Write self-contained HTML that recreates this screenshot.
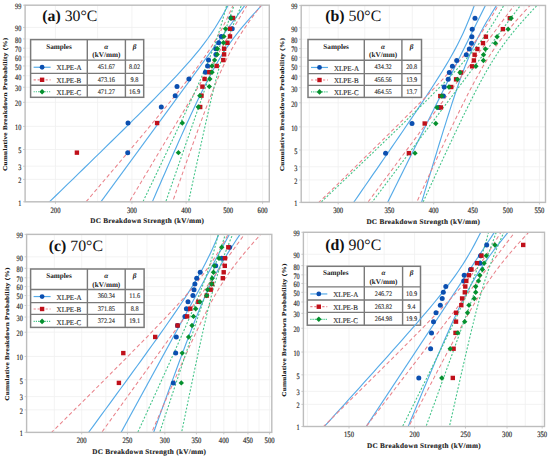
<!DOCTYPE html>
<html><head><meta charset="utf-8"><style>
html,body{margin:0;padding:0;background:#fff;}
svg{display:block;}
text{font-family:"Liberation Serif",serif;fill:#222;text-rendering:geometricPrecision;}
.tl{font-size:8.3px;fill:#1e1e1e;stroke:#1e1e1e;stroke-width:0.18px;}
.al{font-size:7.2px;font-weight:bold;letter-spacing:0.28px;fill:#1a1a1a;stroke:#1a1a1a;stroke-width:0.12px;}
.ti{font-size:15.8px;fill:#111;}
.lh{font-size:7.2px;font-weight:bold;}
.ln{font-size:7.4px;fill:#1e1e1e;stroke:#1e1e1e;stroke-width:0.12px;}
.lv{font-size:7px;fill:#1e1e1e;stroke:#1e1e1e;stroke-width:0.1px;}
</style></head><body>
<svg width="550" height="460" viewBox="0 0 550 460">
<rect width="550" height="460" fill="#fff"/>
<clipPath id="clipa"><rect x="25.1" y="5.2" width="244.20000000000002" height="196.60000000000002"/></clipPath>
<path d="M55.48 5.2V201.8 M97.54 5.2V201.8 M131.91 5.2V201.8 M160.97 5.2V201.8 M186.14 5.2V201.8 M208.34 5.2V201.8 M228.2 5.2V201.8 M246.17 5.2V201.8 M262.57 5.2V201.8 M25.1 201.8H269.3 M25.1 179.4H269.3 M25.1 166.22H269.3 M25.1 149.5H269.3 M25.1 126.41H269.3 M25.1 102.33H269.3 M25.1 87.28H269.3 M25.1 75.75H269.3 M25.1 65.96H269.3 M25.1 57.01H269.3 M25.1 48.24H269.3 M25.1 38.93H269.3 M25.1 27.44H269.3 M25.1 5.2H269.3" stroke="#f0f0f0" stroke-width="0.8" fill="none"/>
<rect x="30.6" y="39.6" width="113.1" height="57.7" fill="#fff" stroke="#7a7a7a" stroke-width="1.5"/>
<path d="M87.3 39.6V97.3M125.4 39.6V97.3M30.6 60.1H143.7M30.6 73.4H143.7M30.6 85.2H143.7" stroke="#7a7a7a" stroke-width="1.4"/>
<text x="58.95" y="48.6" class="lh" text-anchor="middle">Samples</text>
<text x="106.35" y="48.6" class="lh" text-anchor="middle" font-style="italic">α</text>
<text x="106.35" y="57.1" class="lh" text-anchor="middle">(kV/mm)</text>
<text x="134.55" y="48.6" class="lh" text-anchor="middle" font-style="italic">β</text>
<line x1="33.6" y1="67.25" x2="50.6" y2="67.25" stroke="#56abe8" stroke-width="1.2" />
<circle cx="42.1" cy="67.25" r="2.4" fill="#0b4fb0"/>
<text transform="translate(56.6 70.45) scale(0.95 1)" class="ln" text-anchor="start" >XLPE-A</text>
<text transform="translate(106.35 69.15) scale(0.9 1)" class="lv" text-anchor="middle" >451.67</text>
<text transform="translate(134.55 69.15) scale(0.9 1)" class="lv" text-anchor="middle" >8.02</text>
<line x1="33.6" y1="79.8" x2="50.6" y2="79.8" stroke="#e9838b" stroke-width="1.2" stroke-dasharray="2.2 1.8"/>
<rect x="39.9" y="77.6" width="4.4" height="4.4" fill="#c0101a"/>
<text transform="translate(56.6 83) scale(0.95 1)" class="ln" text-anchor="start" >XLPE-B</text>
<text transform="translate(106.35 81.7) scale(0.9 1)" class="lv" text-anchor="middle" >473.16</text>
<text transform="translate(134.55 81.7) scale(0.9 1)" class="lv" text-anchor="middle" >9.8</text>
<line x1="33.6" y1="91.75" x2="50.6" y2="91.75" stroke="#45c58a" stroke-width="1.2" stroke-dasharray="1.2 1"/>
<path d="M42.1 88.95L44.9 91.75L42.1 94.55L39.3 91.75Z" fill="#05902e"/>
<text transform="translate(56.6 94.95) scale(0.95 1)" class="ln" text-anchor="start" >XLPE-C</text>
<text transform="translate(106.35 93.65) scale(0.9 1)" class="lv" text-anchor="middle" >471.27</text>
<text transform="translate(134.55 93.65) scale(0.9 1)" class="lv" text-anchor="middle" >16.9</text>
<g clip-path="url(#clipa)">
<polyline points="93.87,211.43 251.98,-4.43" fill="none" stroke="#56abe8" stroke-width="1.15" />
<polyline points="39.53,211.43 45.11,206.03 50.68,200.63 56.25,195.24 61.81,189.84 67.37,184.44 72.92,179.05 78.47,173.65 84.02,168.26 89.56,162.86 95.09,157.46 100.61,152.07 106.12,146.67 111.63,141.27 117.12,135.88 122.6,130.48 128.06,125.09 133.5,119.69 138.92,114.29 144.32,108.9 149.69,103.5 155.02,98.1 160.3,92.71 165.54,87.31 170.71,81.91 175.8,76.52 180.8,71.12 185.69,65.73 190.44,60.33 195.03,54.93 199.43,49.54 203.63,44.14 207.62,38.74 211.39,33.35 214.95,27.95 218.31,22.56 221.52,17.16 224.57,11.76 227.51,6.37 230.35,0.97 233.11,-4.43" fill="none" stroke="#56abe8" stroke-width="1.15" />
<polyline points="148.2,211.43 150.53,206.03 152.87,200.63 155.2,195.24 157.55,189.84 159.89,184.44 162.24,179.05 164.6,173.65 166.96,168.26 169.33,162.86 171.7,157.46 174.09,152.07 176.48,146.67 178.88,141.27 181.29,135.88 183.72,130.48 186.17,125.09 188.63,119.69 191.11,114.29 193.62,108.9 196.16,103.5 198.74,98.1 201.36,92.71 204.03,87.31 206.76,81.91 209.58,76.52 212.48,71.12 215.5,65.73 218.66,60.33 221.98,54.93 225.48,49.54 229.18,44.14 233.1,38.74 237.24,33.35 241.59,27.95 246.12,22.56 250.83,17.16 255.67,11.76 260.64,6.37 265.71,0.97 270.86,-4.43" fill="none" stroke="#56abe8" stroke-width="1.15" />
<polyline points="123.55,211.43 252.94,-4.43" fill="none" stroke="#e9838b" stroke-width="1.05" stroke-dasharray="3.8 2.6"/>
<polyline points="77.84,211.43 82.43,206.03 87.03,200.63 91.62,195.24 96.21,189.84 100.8,184.44 105.38,179.05 109.96,173.65 114.54,168.26 119.11,162.86 123.67,157.46 128.22,152.07 132.77,146.67 137.31,141.27 141.84,135.88 146.36,130.48 150.86,125.09 155.35,119.69 159.82,114.29 164.27,108.9 168.7,103.5 173.09,98.1 177.45,92.71 181.76,87.31 186.02,81.91 190.21,76.52 194.33,71.12 198.35,65.73 202.25,60.33 206.02,54.93 209.64,49.54 213.08,44.14 216.34,38.74 219.42,33.35 222.33,27.95 225.07,22.56 227.68,17.16 230.16,11.76 232.54,6.37 234.84,0.97 237.06,-4.43" fill="none" stroke="#e9838b" stroke-width="1.05" stroke-dasharray="3.8 2.6"/>
<polyline points="169.26,211.43 171.13,206.03 173,200.63 174.88,195.24 176.76,189.84 178.64,184.44 180.53,179.05 182.42,173.65 184.32,168.26 186.22,162.86 188.12,157.46 190.04,152.07 191.96,146.67 193.89,141.27 195.83,135.88 197.78,130.48 199.75,125.09 201.73,119.69 203.73,114.29 205.75,108.9 207.8,103.5 209.87,98.1 211.99,92.71 214.14,87.31 216.35,81.91 218.63,76.52 220.98,71.12 223.43,65.73 226,60.33 228.7,54.93 231.55,49.54 234.58,44.14 237.79,38.74 241.18,33.35 244.74,27.95 248.47,22.56 252.33,17.16 256.32,11.76 260.41,6.37 264.58,0.97 268.83,-4.43" fill="none" stroke="#e9838b" stroke-width="1.05" stroke-dasharray="3.8 2.6"/>
<polyline points="162.39,211.43 237.43,-4.43" fill="none" stroke="#45c58a" stroke-width="1.1" stroke-dasharray="2 1.7"/>
<polyline points="138.29,211.43 140.89,206.03 143.48,200.63 146.07,195.24 148.66,189.84 151.25,184.44 153.84,179.05 156.42,173.65 159,168.26 161.58,162.86 164.16,157.46 166.73,152.07 169.3,146.67 171.86,141.27 174.42,135.88 176.97,130.48 179.52,125.09 182.06,119.69 184.58,114.29 187.1,108.9 189.6,103.5 192.09,98.1 194.56,92.71 197,87.31 199.42,81.91 201.8,76.52 204.14,71.12 206.43,65.73 208.66,60.33 210.81,54.93 212.89,49.54 214.88,44.14 216.77,38.74 218.56,33.35 220.26,27.95 221.88,22.56 223.42,17.16 224.9,11.76 226.33,6.37 227.71,0.97 229.05,-4.43" fill="none" stroke="#45c58a" stroke-width="1.1" stroke-dasharray="2 1.7"/>
<polyline points="186.49,211.43 187.64,206.03 188.8,200.63 189.96,195.24 191.12,189.84 192.29,184.44 193.45,179.05 194.62,173.65 195.79,168.26 196.96,162.86 198.14,157.46 199.32,152.07 200.5,146.67 201.69,141.27 202.88,135.88 204.08,130.48 205.29,125.09 206.5,119.69 207.73,114.29 208.96,108.9 210.21,103.5 211.48,98.1 212.76,92.71 214.07,87.31 215.41,81.91 216.78,76.52 218.19,71.12 219.65,65.73 221.17,60.33 222.77,54.93 224.44,49.54 226.21,44.14 228.07,38.74 230.03,33.35 232.08,27.95 234.21,22.56 236.42,17.16 238.69,11.76 241.02,6.37 243.39,0.97 245.8,-4.43" fill="none" stroke="#45c58a" stroke-width="1.1" stroke-dasharray="2 1.7"/>
</g>
<circle cx="127.7" cy="152.64" r="2.5" fill="#0b4fb0"/>
<circle cx="128" cy="123.05" r="2.5" fill="#0b4fb0"/>
<circle cx="161.3" cy="107.02" r="2.5" fill="#0b4fb0"/>
<circle cx="175.2" cy="95.65" r="2.5" fill="#0b4fb0"/>
<circle cx="177" cy="86.62" r="2.5" fill="#0b4fb0"/>
<circle cx="188.9" cy="78.96" r="2.5" fill="#0b4fb0"/>
<circle cx="205.4" cy="72.18" r="2.5" fill="#0b4fb0"/>
<circle cx="207.6" cy="65.96" r="2.5" fill="#0b4fb0"/>
<circle cx="208.5" cy="60.09" r="2.5" fill="#0b4fb0"/>
<circle cx="215.9" cy="54.4" r="2.5" fill="#0b4fb0"/>
<circle cx="215.9" cy="48.71" r="2.5" fill="#0b4fb0"/>
<circle cx="218.7" cy="42.81" r="2.5" fill="#0b4fb0"/>
<circle cx="221.3" cy="36.41" r="2.5" fill="#0b4fb0"/>
<circle cx="232.2" cy="28.85" r="2.5" fill="#0b4fb0"/>
<circle cx="231" cy="17.99" r="2.5" fill="#0b4fb0"/>
<rect x="74.7" y="150.44" width="4.4" height="4.4" fill="#c0101a"/>
<rect x="154.9" y="120.85" width="4.4" height="4.4" fill="#c0101a"/>
<rect x="198" y="104.82" width="4.4" height="4.4" fill="#c0101a"/>
<rect x="199.3" y="93.45" width="4.4" height="4.4" fill="#c0101a"/>
<rect x="200.2" y="84.42" width="4.4" height="4.4" fill="#c0101a"/>
<rect x="202.4" y="76.76" width="4.4" height="4.4" fill="#c0101a"/>
<rect x="207.1" y="69.98" width="4.4" height="4.4" fill="#c0101a"/>
<rect x="214.5" y="63.76" width="4.4" height="4.4" fill="#c0101a"/>
<rect x="221.1" y="57.89" width="4.4" height="4.4" fill="#c0101a"/>
<rect x="221.9" y="52.2" width="4.4" height="4.4" fill="#c0101a"/>
<rect x="221.9" y="46.51" width="4.4" height="4.4" fill="#c0101a"/>
<rect x="225.2" y="40.61" width="4.4" height="4.4" fill="#c0101a"/>
<rect x="227.8" y="34.21" width="4.4" height="4.4" fill="#c0101a"/>
<rect x="227.8" y="26.65" width="4.4" height="4.4" fill="#c0101a"/>
<rect x="230.8" y="15.79" width="4.4" height="4.4" fill="#c0101a"/>
<path d="M178.4 149.94L181.1 152.64L178.4 155.34L175.7 152.64Z" fill="#05902e"/>
<path d="M182.3 120.35L185 123.05L182.3 125.75L179.6 123.05Z" fill="#05902e"/>
<path d="M198.3 104.32L201 107.02L198.3 109.72L195.6 107.02Z" fill="#05902e"/>
<path d="M199.8 92.95L202.5 95.65L199.8 98.35L197.1 95.65Z" fill="#05902e"/>
<path d="M209.3 83.92L212 86.62L209.3 89.32L206.6 86.62Z" fill="#05902e"/>
<path d="M209.8 76.26L212.5 78.96L209.8 81.66L207.1 78.96Z" fill="#05902e"/>
<path d="M212 69.48L214.7 72.18L212 74.88L209.3 72.18Z" fill="#05902e"/>
<path d="M212 63.26L214.7 65.96L212 68.66L209.3 65.96Z" fill="#05902e"/>
<path d="M214.6 57.39L217.3 60.09L214.6 62.79L211.9 60.09Z" fill="#05902e"/>
<path d="M217.2 51.7L219.9 54.4L217.2 57.1L214.5 54.4Z" fill="#05902e"/>
<path d="M217.4 46.01L220.1 48.71L217.4 51.41L214.7 48.71Z" fill="#05902e"/>
<path d="M223.5 40.11L226.2 42.81L223.5 45.51L220.8 42.81Z" fill="#05902e"/>
<path d="M223.9 33.71L226.6 36.41L223.9 39.11L221.2 36.41Z" fill="#05902e"/>
<path d="M225.5 26.15L228.2 28.85L225.5 31.55L222.8 28.85Z" fill="#05902e"/>
<path d="M230.9 15.29L233.6 17.99L230.9 20.69L228.2 17.99Z" fill="#05902e"/>
<rect x="25.1" y="5.2" width="244.2" height="196.6" fill="none" stroke="#bdbdbd" stroke-width="1.4"/>
<path d="M55.48 201.8v2 M131.91 201.8v2 M186.14 201.8v2 M228.2 201.8v2 M262.57 201.8v2 M25.1 201.8h-2 M25.1 179.4h-2 M25.1 166.22h-2 M25.1 149.5h-2 M25.1 126.41h-2 M25.1 102.33h-2 M25.1 87.28h-2 M25.1 75.75h-2 M25.1 65.96h-2 M25.1 57.01h-2 M25.1 48.24h-2 M25.1 38.93h-2 M25.1 27.44h-2 M25.1 5.2h-2" stroke="#bdbdbd" stroke-width="0.8"/>
<text transform="translate(55.48 212.8) scale(0.8 1)" class="tl" text-anchor="middle" >200</text>
<text transform="translate(131.91 212.8) scale(0.8 1)" class="tl" text-anchor="middle" >300</text>
<text transform="translate(186.14 212.8) scale(0.8 1)" class="tl" text-anchor="middle" >400</text>
<text transform="translate(228.2 212.8) scale(0.8 1)" class="tl" text-anchor="middle" >500</text>
<text transform="translate(262.57 212.8) scale(0.8 1)" class="tl" text-anchor="middle" >600</text>
<text transform="translate(21.3 205.7) scale(0.75 1)" class="tl" text-anchor="end" >1</text>
<text transform="translate(21.3 183.3) scale(0.75 1)" class="tl" text-anchor="end" >2</text>
<text transform="translate(21.3 170.12) scale(0.75 1)" class="tl" text-anchor="end" >3</text>
<text transform="translate(21.3 153.4) scale(0.75 1)" class="tl" text-anchor="end" >5</text>
<text transform="translate(21.3 130.31) scale(0.75 1)" class="tl" text-anchor="end" >10</text>
<text transform="translate(21.3 106.23) scale(0.75 1)" class="tl" text-anchor="end" >20</text>
<text transform="translate(21.3 91.18) scale(0.75 1)" class="tl" text-anchor="end" >30</text>
<text transform="translate(21.3 79.65) scale(0.75 1)" class="tl" text-anchor="end" >40</text>
<text transform="translate(21.3 69.86) scale(0.75 1)" class="tl" text-anchor="end" >50</text>
<text transform="translate(21.3 60.91) scale(0.75 1)" class="tl" text-anchor="end" >60</text>
<text transform="translate(21.3 52.14) scale(0.75 1)" class="tl" text-anchor="end" >70</text>
<text transform="translate(21.3 42.83) scale(0.75 1)" class="tl" text-anchor="end" >80</text>
<text transform="translate(21.3 31.34) scale(0.75 1)" class="tl" text-anchor="end" >90</text>
<text transform="translate(21.3 9.1) scale(0.75 1)" class="tl" text-anchor="end" >99</text>
<text x="147.2" y="223.4" class="al" text-anchor="middle">DC Breakdown Strength (kV/mm)</text>
<text transform="translate(7.4 104.2) scale(0.8 1) rotate(-90)" class="al" style="stroke-width:0.2px" text-anchor="middle">Cumulative Breakdown Probability (%)</text>
<text x="42.3" y="20.8" class="ti"><tspan font-weight="bold">(a)</tspan> 30°C</text>
<clipPath id="clipb"><rect x="301.2" y="5.45" width="244.3" height="196.95000000000002"/></clipPath>
<path d="M309.31 5.45V202.4 M338.2 5.45V202.4 M364.77 5.45V202.4 M389.38 5.45V202.4 M412.28 5.45V202.4 M433.71 5.45V202.4 M453.84 5.45V202.4 M472.81 5.45V202.4 M490.76 5.45V202.4 M507.79 5.45V202.4 M523.99 5.45V202.4 M539.44 5.45V202.4 M301.2 202.4H545.5 M301.2 179.96H545.5 M301.2 166.76H545.5 M301.2 150.01H545.5 M301.2 126.87H545.5 M301.2 102.75H545.5 M301.2 87.68H545.5 M301.2 76.13H545.5 M301.2 66.32H545.5 M301.2 57.35H545.5 M301.2 48.57H545.5 M301.2 39.24H545.5 M301.2 27.73H545.5 M301.2 5.45H545.5" stroke="#f0f0f0" stroke-width="0.8" fill="none"/>
<rect x="308" y="39.5" width="113.5" height="57.9" fill="#fff" stroke="#7a7a7a" stroke-width="1.5"/>
<path d="M364.3 39.5V97.4M401.9 39.5V97.4M308 60.3H421.5M308 73.6H421.5M308 85.4H421.5" stroke="#7a7a7a" stroke-width="1.4"/>
<text x="336.15" y="48.5" class="lh" text-anchor="middle">Samples</text>
<text x="383.1" y="48.5" class="lh" text-anchor="middle" font-style="italic">α</text>
<text x="383.1" y="57" class="lh" text-anchor="middle">(kV/mm)</text>
<text x="411.7" y="48.5" class="lh" text-anchor="middle" font-style="italic">β</text>
<line x1="311" y1="67.45" x2="328" y2="67.45" stroke="#56abe8" stroke-width="1.2" />
<circle cx="319.5" cy="67.45" r="2.4" fill="#0b4fb0"/>
<text transform="translate(334 70.65) scale(0.95 1)" class="ln" text-anchor="start" >XLPE-A</text>
<text transform="translate(383.1 69.35) scale(0.9 1)" class="lv" text-anchor="middle" >434.32</text>
<text transform="translate(411.7 69.35) scale(0.9 1)" class="lv" text-anchor="middle" >20.8</text>
<line x1="311" y1="80" x2="328" y2="80" stroke="#e9838b" stroke-width="1.2" stroke-dasharray="2.2 1.8"/>
<rect x="317.3" y="77.8" width="4.4" height="4.4" fill="#c0101a"/>
<text transform="translate(334 83.2) scale(0.95 1)" class="ln" text-anchor="start" >XLPE-B</text>
<text transform="translate(383.1 81.9) scale(0.9 1)" class="lv" text-anchor="middle" >456.56</text>
<text transform="translate(411.7 81.9) scale(0.9 1)" class="lv" text-anchor="middle" >13.9</text>
<line x1="311" y1="91.9" x2="328" y2="91.9" stroke="#45c58a" stroke-width="1.2" stroke-dasharray="1.2 1"/>
<path d="M319.5 89.1L322.3 91.9L319.5 94.7L316.7 91.9Z" fill="#05902e"/>
<text transform="translate(334 95.1) scale(0.95 1)" class="ln" text-anchor="start" >XLPE-C</text>
<text transform="translate(383.1 93.8) scale(0.9 1)" class="lv" text-anchor="middle" >464.55</text>
<text transform="translate(411.7 93.8) scale(0.9 1)" class="lv" text-anchor="middle" >13.7</text>
<g clip-path="url(#clipb)">
<polyline points="382.83,212.04 490.2,-4.19" fill="none" stroke="#56abe8" stroke-width="1.15" />
<polyline points="346.96,212.04 350.72,206.64 354.47,201.23 358.22,195.83 361.97,190.42 365.71,185.01 369.45,179.61 373.19,174.2 376.93,168.8 380.66,163.39 384.38,157.98 388.11,152.58 391.82,147.17 395.53,141.77 399.23,136.36 402.92,130.95 406.6,125.55 410.27,120.14 413.92,114.74 417.56,109.33 421.18,103.93 424.77,98.52 428.33,93.11 431.87,87.71 435.35,82.3 438.79,76.9 442.17,71.49 445.47,66.08 448.68,60.68 451.78,55.27 454.76,49.87 457.61,44.46 460.32,39.05 462.88,33.65 465.31,28.24 467.6,22.84 469.79,17.43 471.89,12.02 473.9,6.62 475.85,1.21 477.74,-4.19" fill="none" stroke="#56abe8" stroke-width="1.15" />
<polyline points="418.69,212.04 420.3,206.64 421.92,201.23 423.54,195.83 425.16,190.42 426.78,185.01 428.41,179.61 430.04,174.2 431.67,168.8 433.31,163.39 434.96,157.98 436.6,152.58 438.26,147.17 439.92,141.77 441.59,136.36 443.27,130.95 444.95,125.55 446.66,120.14 448.37,114.74 450.1,109.33 451.85,103.93 453.63,98.52 455.43,93.11 457.27,87.71 459.15,82.3 461.08,76.9 463.08,71.49 465.15,66.08 467.3,60.68 469.57,55.27 471.96,49.87 474.48,44.46 477.14,39.05 479.95,33.65 482.89,28.24 485.96,22.84 489.14,17.43 492.41,12.02 495.77,6.62 499.19,1.21 502.66,-4.19" fill="none" stroke="#56abe8" stroke-width="1.15" />
<polyline points="360.58,212.04 521.26,-4.19" fill="none" stroke="#e9838b" stroke-width="1.05" stroke-dasharray="3.8 2.6"/>
<polyline points="308.98,212.04 314.53,206.64 320.09,201.23 325.64,195.83 331.19,190.42 336.73,185.01 342.27,179.61 347.8,174.2 353.33,168.8 358.85,163.39 364.37,157.98 369.88,152.58 375.38,147.17 380.87,141.77 386.34,136.36 391.81,130.95 397.26,125.55 402.69,120.14 408.1,114.74 413.49,109.33 418.85,103.93 424.18,98.52 429.46,93.11 434.69,87.71 439.87,82.3 444.97,76.9 449.98,71.49 454.88,66.08 459.66,60.68 464.28,55.27 468.72,49.87 472.97,44.46 477.02,39.05 480.86,33.65 484.51,28.24 487.97,22.84 491.27,17.43 494.44,12.02 497.49,6.62 500.45,1.21 503.33,-4.19" fill="none" stroke="#e9838b" stroke-width="1.05" stroke-dasharray="3.8 2.6"/>
<polyline points="412.18,212.04 414.66,206.64 417.14,201.23 419.62,195.83 422.11,190.42 424.6,185.01 427.1,179.61 429.6,174.2 432.1,168.8 434.61,163.39 437.13,157.98 439.66,152.58 442.19,147.17 444.74,141.77 447.29,136.36 449.86,130.95 452.45,125.55 455.05,120.14 457.67,114.74 460.32,109.33 462.99,103.93 465.7,98.52 468.45,93.11 471.25,87.71 474.11,82.3 477.04,76.9 480.07,71.49 483.2,66.08 486.46,60.68 489.87,55.27 493.46,49.87 497.24,44.46 501.23,39.05 505.42,33.65 509.81,28.24 514.38,22.84 519.11,17.43 523.98,12.02 528.96,6.62 534.04,1.21 539.19,-4.19" fill="none" stroke="#e9838b" stroke-width="1.05" stroke-dasharray="3.8 2.6"/>
<polyline points="364.63,212.04 527.66,-4.19" fill="none" stroke="#45c58a" stroke-width="1.1" stroke-dasharray="2 1.7"/>
<polyline points="310.71,212.04 316.39,206.64 322.07,201.23 327.75,195.83 333.42,190.42 339.09,185.01 344.76,179.61 350.42,174.2 356.08,168.8 361.73,163.39 367.37,157.98 373,152.58 378.63,147.17 384.24,141.77 389.84,136.36 395.43,130.95 401.01,125.55 406.56,120.14 412.09,114.74 417.6,109.33 423.08,103.93 428.52,98.52 433.92,93.11 439.27,87.71 444.56,82.3 449.76,76.9 454.88,71.49 459.88,66.08 464.75,60.68 469.45,55.27 473.98,49.87 478.3,44.46 482.41,39.05 486.3,33.65 489.98,28.24 493.48,22.84 496.81,17.43 500,12.02 503.07,6.62 506.04,1.21 508.92,-4.19" fill="none" stroke="#45c58a" stroke-width="1.1" stroke-dasharray="2 1.7"/>
<polyline points="418.56,212.04 421.02,206.64 423.49,201.23 425.97,195.83 428.44,190.42 430.92,185.01 433.41,179.61 435.9,174.2 438.4,168.8 440.9,163.39 443.41,157.98 445.93,152.58 448.45,147.17 450.99,141.77 453.54,136.36 456.1,130.95 458.68,125.55 461.27,120.14 463.89,114.74 466.54,109.33 469.21,103.93 471.92,98.52 474.67,93.11 477.47,87.71 480.34,82.3 483.28,76.9 486.32,71.49 489.47,66.08 492.76,60.68 496.2,55.27 499.83,49.87 503.66,44.46 507.7,39.05 511.96,33.65 516.42,28.24 521.08,22.84 525.9,17.43 530.86,12.02 535.95,6.62 541.13,1.21 546.39,-4.19" fill="none" stroke="#45c58a" stroke-width="1.1" stroke-dasharray="2 1.7"/>
</g>
<circle cx="385.6" cy="153.15" r="2.5" fill="#0b4fb0"/>
<circle cx="412" cy="123.51" r="2.5" fill="#0b4fb0"/>
<circle cx="439" cy="107.45" r="2.5" fill="#0b4fb0"/>
<circle cx="443.4" cy="96.06" r="2.5" fill="#0b4fb0"/>
<circle cx="444.2" cy="87.01" r="2.5" fill="#0b4fb0"/>
<circle cx="448.2" cy="79.34" r="2.5" fill="#0b4fb0"/>
<circle cx="449.3" cy="72.55" r="2.5" fill="#0b4fb0"/>
<circle cx="452.4" cy="66.32" r="2.5" fill="#0b4fb0"/>
<circle cx="456.7" cy="60.44" r="2.5" fill="#0b4fb0"/>
<circle cx="466.3" cy="54.73" r="2.5" fill="#0b4fb0"/>
<circle cx="469.3" cy="49.03" r="2.5" fill="#0b4fb0"/>
<circle cx="471.5" cy="43.13" r="2.5" fill="#0b4fb0"/>
<circle cx="471.9" cy="36.71" r="2.5" fill="#0b4fb0"/>
<circle cx="472.2" cy="29.14" r="2.5" fill="#0b4fb0"/>
<circle cx="475" cy="18.26" r="2.5" fill="#0b4fb0"/>
<rect x="406.7" y="150.95" width="4.4" height="4.4" fill="#c0101a"/>
<rect x="422.5" y="121.31" width="4.4" height="4.4" fill="#c0101a"/>
<rect x="438.7" y="105.25" width="4.4" height="4.4" fill="#c0101a"/>
<rect x="438.1" y="93.86" width="4.4" height="4.4" fill="#c0101a"/>
<rect x="449" y="84.81" width="4.4" height="4.4" fill="#c0101a"/>
<rect x="453.9" y="77.14" width="4.4" height="4.4" fill="#c0101a"/>
<rect x="458.9" y="70.35" width="4.4" height="4.4" fill="#c0101a"/>
<rect x="469.9" y="64.12" width="4.4" height="4.4" fill="#c0101a"/>
<rect x="471.7" y="58.24" width="4.4" height="4.4" fill="#c0101a"/>
<rect x="472.4" y="52.53" width="4.4" height="4.4" fill="#c0101a"/>
<rect x="475.2" y="46.83" width="4.4" height="4.4" fill="#c0101a"/>
<rect x="480.8" y="40.93" width="4.4" height="4.4" fill="#c0101a"/>
<rect x="483.7" y="34.51" width="4.4" height="4.4" fill="#c0101a"/>
<rect x="500.7" y="26.94" width="4.4" height="4.4" fill="#c0101a"/>
<rect x="507.6" y="16.06" width="4.4" height="4.4" fill="#c0101a"/>
<path d="M415 150.45L417.7 153.15L415 155.85L412.3 153.15Z" fill="#05902e"/>
<path d="M435.8 120.81L438.5 123.51L435.8 126.21L433.1 123.51Z" fill="#05902e"/>
<path d="M437 104.75L439.7 107.45L437 110.15L434.3 107.45Z" fill="#05902e"/>
<path d="M441.8 93.36L444.5 96.06L441.8 98.76L439.1 96.06Z" fill="#05902e"/>
<path d="M448.9 84.31L451.6 87.01L448.9 89.71L446.2 87.01Z" fill="#05902e"/>
<path d="M457.5 76.64L460.2 79.34L457.5 82.04L454.8 79.34Z" fill="#05902e"/>
<path d="M460 69.85L462.7 72.55L460 75.25L457.3 72.55Z" fill="#05902e"/>
<path d="M475.9 63.62L478.6 66.32L475.9 69.02L473.2 66.32Z" fill="#05902e"/>
<path d="M483.4 57.74L486.1 60.44L483.4 63.14L480.7 60.44Z" fill="#05902e"/>
<path d="M483.5 52.03L486.2 54.73L483.5 57.43L480.8 54.73Z" fill="#05902e"/>
<path d="M485.4 46.33L488.1 49.03L485.4 51.73L482.7 49.03Z" fill="#05902e"/>
<path d="M495.4 40.43L498.1 43.13L495.4 45.83L492.7 43.13Z" fill="#05902e"/>
<path d="M497.1 34.01L499.8 36.71L497.1 39.41L494.4 36.71Z" fill="#05902e"/>
<path d="M508.1 26.44L510.8 29.14L508.1 31.84L505.4 29.14Z" fill="#05902e"/>
<path d="M511.1 15.56L513.8 18.26L511.1 20.96L508.4 18.26Z" fill="#05902e"/>
<rect x="301.2" y="5.45" width="244.3" height="196.95" fill="none" stroke="#bdbdbd" stroke-width="1.4"/>
<path d="M338.2 202.4v2 M389.38 202.4v2 M433.71 202.4v2 M472.81 202.4v2 M507.79 202.4v2 M539.44 202.4v2 M301.2 202.4h-2 M301.2 179.96h-2 M301.2 166.76h-2 M301.2 150.01h-2 M301.2 126.87h-2 M301.2 102.75h-2 M301.2 87.68h-2 M301.2 76.13h-2 M301.2 66.32h-2 M301.2 57.35h-2 M301.2 48.57h-2 M301.2 39.24h-2 M301.2 27.73h-2 M301.2 5.45h-2" stroke="#bdbdbd" stroke-width="0.8"/>
<text transform="translate(338.2 213.4) scale(0.8 1)" class="tl" text-anchor="middle" >300</text>
<text transform="translate(389.38 213.4) scale(0.8 1)" class="tl" text-anchor="middle" >350</text>
<text transform="translate(433.71 213.4) scale(0.8 1)" class="tl" text-anchor="middle" >400</text>
<text transform="translate(472.81 213.4) scale(0.8 1)" class="tl" text-anchor="middle" >450</text>
<text transform="translate(507.79 213.4) scale(0.8 1)" class="tl" text-anchor="middle" >500</text>
<text transform="translate(539.44 213.4) scale(0.8 1)" class="tl" text-anchor="middle" >550</text>
<text transform="translate(297.4 206.3) scale(0.75 1)" class="tl" text-anchor="end" >1</text>
<text transform="translate(297.4 183.86) scale(0.75 1)" class="tl" text-anchor="end" >2</text>
<text transform="translate(297.4 170.66) scale(0.75 1)" class="tl" text-anchor="end" >3</text>
<text transform="translate(297.4 153.91) scale(0.75 1)" class="tl" text-anchor="end" >5</text>
<text transform="translate(297.4 130.77) scale(0.75 1)" class="tl" text-anchor="end" >10</text>
<text transform="translate(297.4 106.65) scale(0.75 1)" class="tl" text-anchor="end" >20</text>
<text transform="translate(297.4 91.58) scale(0.75 1)" class="tl" text-anchor="end" >30</text>
<text transform="translate(297.4 80.03) scale(0.75 1)" class="tl" text-anchor="end" >40</text>
<text transform="translate(297.4 70.22) scale(0.75 1)" class="tl" text-anchor="end" >50</text>
<text transform="translate(297.4 61.25) scale(0.75 1)" class="tl" text-anchor="end" >60</text>
<text transform="translate(297.4 52.47) scale(0.75 1)" class="tl" text-anchor="end" >70</text>
<text transform="translate(297.4 43.14) scale(0.75 1)" class="tl" text-anchor="end" >80</text>
<text transform="translate(297.4 31.63) scale(0.75 1)" class="tl" text-anchor="end" >90</text>
<text transform="translate(297.4 9.35) scale(0.75 1)" class="tl" text-anchor="end" >99</text>
<text x="423.35" y="224" class="al" text-anchor="middle">DC Breakdown Strength (kV/mm)</text>
<text transform="translate(283.5 104.62) scale(0.8 1) rotate(-90)" class="al" style="stroke-width:0.2px" text-anchor="middle">Cumulative Breakdown Probability (%)</text>
<text x="325.3" y="21.3" class="ti"><tspan font-weight="bold">(b)</tspan> 50°C</text>
<clipPath id="clipc"><rect x="26.6" y="234.4" width="245.20000000000002" height="197.99999999999997"/></clipPath>
<path d="M54.33 234.4V432.4 M81.7 234.4V432.4 M105.85 234.4V432.4 M127.44 234.4V432.4 M146.98 234.4V432.4 M164.82 234.4V432.4 M181.23 234.4V432.4 M196.42 234.4V432.4 M210.56 234.4V432.4 M223.8 234.4V432.4 M236.22 234.4V432.4 M247.94 234.4V432.4 M259.02 234.4V432.4 M269.54 234.4V432.4 M26.6 432.4H271.8 M26.6 409.84H271.8 M26.6 396.57H271.8 M26.6 379.73H271.8 M26.6 356.47H271.8 M26.6 332.22H271.8 M26.6 317.06H271.8 M26.6 305.46H271.8 M26.6 295.59H271.8 M26.6 286.57H271.8 M26.6 277.75H271.8 M26.6 268.37H271.8 M26.6 256.8H271.8 M26.6 234.4H271.8" stroke="#f0f0f0" stroke-width="0.8" fill="none"/>
<rect x="30.6" y="269" width="113.5" height="58.4" fill="#fff" stroke="#7a7a7a" stroke-width="1.5"/>
<path d="M87.4 269V327.4M125.2 269V327.4M30.6 289.5H144.1M30.6 302.6H144.1M30.6 314.4H144.1" stroke="#7a7a7a" stroke-width="1.4"/>
<text x="59" y="278" class="lh" text-anchor="middle">Samples</text>
<text x="106.3" y="278" class="lh" text-anchor="middle" font-style="italic">α</text>
<text x="106.3" y="286.5" class="lh" text-anchor="middle">(kV/mm)</text>
<text x="134.65" y="278" class="lh" text-anchor="middle" font-style="italic">β</text>
<line x1="33.6" y1="296.55" x2="50.6" y2="296.55" stroke="#56abe8" stroke-width="1.2" />
<circle cx="42.1" cy="296.55" r="2.4" fill="#0b4fb0"/>
<text transform="translate(56.6 299.75) scale(0.95 1)" class="ln" text-anchor="start" >XLPE-A</text>
<text transform="translate(106.3 298.45) scale(0.9 1)" class="lv" text-anchor="middle" >360.34</text>
<text transform="translate(134.65 298.45) scale(0.9 1)" class="lv" text-anchor="middle" >11.6</text>
<line x1="33.6" y1="309" x2="50.6" y2="309" stroke="#e9838b" stroke-width="1.2" stroke-dasharray="2.2 1.8"/>
<rect x="39.9" y="306.8" width="4.4" height="4.4" fill="#c0101a"/>
<text transform="translate(56.6 312.2) scale(0.95 1)" class="ln" text-anchor="start" >XLPE-B</text>
<text transform="translate(106.3 310.9) scale(0.9 1)" class="lv" text-anchor="middle" >371.85</text>
<text transform="translate(134.65 310.9) scale(0.9 1)" class="lv" text-anchor="middle" >8.8</text>
<line x1="33.6" y1="321.4" x2="50.6" y2="321.4" stroke="#45c58a" stroke-width="1.2" stroke-dasharray="1.2 1"/>
<path d="M42.1 318.6L44.9 321.4L42.1 324.2L39.3 321.4Z" fill="#05902e"/>
<text transform="translate(56.6 324.6) scale(0.95 1)" class="ln" text-anchor="start" >XLPE-C</text>
<text transform="translate(106.3 323.3) scale(0.9 1)" class="lv" text-anchor="middle" >372.24</text>
<text transform="translate(134.65 323.3) scale(0.9 1)" class="lv" text-anchor="middle" >19.1</text>
<g clip-path="url(#clipc)">
<polyline points="115.79,442.09 234.68,224.71" fill="none" stroke="#56abe8" stroke-width="1.15" />
<polyline points="81.43,442.09 85.43,436.66 89.42,431.22 93.42,425.79 97.41,420.36 101.4,414.92 105.38,409.49 109.36,404.05 113.34,398.62 117.32,393.18 121.29,387.75 125.25,382.31 129.21,376.88 133.16,371.44 137.11,366.01 141.05,360.57 144.97,355.14 148.89,349.7 152.79,344.27 156.67,338.83 160.54,333.4 164.38,327.97 168.2,322.53 171.98,317.1 175.72,311.66 179.42,306.23 183.05,300.79 186.61,295.36 190.09,289.92 193.46,284.49 196.72,279.05 199.85,273.62 202.84,268.18 205.7,262.75 208.42,257.31 211.03,251.88 213.52,246.44 215.93,241.01 218.26,235.58 220.53,230.14 222.74,224.71" fill="none" stroke="#56abe8" stroke-width="1.15" />
<polyline points="150.15,442.09 152.1,436.66 154.05,431.22 156,425.79 157.95,420.36 159.91,414.92 161.87,409.49 163.83,404.05 165.8,398.62 167.77,393.18 169.74,387.75 171.72,382.31 173.71,376.88 175.7,371.44 177.7,366.01 179.7,360.57 181.72,355.14 183.75,349.7 185.8,344.27 187.85,338.83 189.93,333.4 192.03,327.97 194.16,322.53 196.32,317.1 198.53,311.66 200.78,306.23 203.09,300.79 205.47,295.36 207.94,289.92 210.51,284.49 213.19,279.05 216.01,273.62 218.96,268.18 222.05,262.75 225.27,257.31 228.61,251.88 232.06,246.44 235.6,241.01 239.21,235.58 242.89,230.14 246.62,224.71" fill="none" stroke="#56abe8" stroke-width="1.15" />
<polyline points="94.68,442.09 251.4,224.71" fill="none" stroke="#e9838b" stroke-width="1.05" stroke-dasharray="3.8 2.6"/>
<polyline points="41.84,442.09 47.33,436.66 52.83,431.22 58.31,425.79 63.8,420.36 69.28,414.92 74.76,409.49 80.23,404.05 85.69,398.62 91.15,393.18 96.61,387.75 102.05,382.31 107.49,376.88 112.91,371.44 118.33,366.01 123.73,360.57 129.11,355.14 134.48,349.7 139.83,344.27 145.15,338.83 150.44,333.4 155.7,327.97 160.91,322.53 166.08,317.1 171.18,311.66 176.21,306.23 181.14,300.79 185.97,295.36 190.66,289.92 195.2,284.49 199.55,279.05 203.71,273.62 207.66,268.18 211.4,262.75 214.94,257.31 218.29,251.88 221.47,246.44 224.52,241.01 227.45,235.58 230.29,230.14 233.04,224.71" fill="none" stroke="#e9838b" stroke-width="1.05" stroke-dasharray="3.8 2.6"/>
<polyline points="147.53,442.09 149.87,436.66 152.21,431.22 154.56,425.79 156.91,420.36 159.27,414.92 161.63,409.49 163.99,404.05 166.36,398.62 168.74,393.18 171.12,387.75 173.51,382.31 175.91,376.88 178.32,371.44 180.74,366.01 183.18,360.57 185.63,355.14 188.1,349.7 190.59,344.27 193.1,338.83 195.64,333.4 198.22,327.97 200.84,322.53 203.51,317.1 206.25,311.66 209.06,306.23 211.96,300.79 214.97,295.36 218.11,289.92 221.41,284.49 224.89,279.05 228.56,273.62 232.45,268.18 236.55,262.75 240.85,257.31 245.33,251.88 249.98,246.44 254.77,241.01 259.68,235.58 264.68,230.14 269.76,224.71" fill="none" stroke="#e9838b" stroke-width="1.05" stroke-dasharray="3.8 2.6"/>
<polyline points="156.46,442.09 228.66,224.71" fill="none" stroke="#45c58a" stroke-width="1.1" stroke-dasharray="2 1.7"/>
<polyline points="133.27,442.09 135.77,436.66 138.26,431.22 140.76,425.79 143.25,420.36 145.74,414.92 148.23,409.49 150.72,404.05 153.2,398.62 155.68,393.18 158.16,387.75 160.63,382.31 163.11,376.88 165.57,371.44 168.03,366.01 170.49,360.57 172.94,355.14 175.38,349.7 177.81,344.27 180.23,338.83 182.64,333.4 185.03,327.97 187.41,322.53 189.76,317.1 192.09,311.66 194.38,306.23 196.63,300.79 198.83,295.36 200.98,289.92 203.05,284.49 205.05,279.05 206.96,273.62 208.78,268.18 210.51,262.75 212.15,257.31 213.7,251.88 215.19,246.44 216.61,241.01 217.98,235.58 219.31,230.14 220.61,224.71" fill="none" stroke="#45c58a" stroke-width="1.1" stroke-dasharray="2 1.7"/>
<polyline points="179.64,442.09 180.76,436.66 181.87,431.22 182.99,425.79 184.11,420.36 185.23,414.92 186.35,409.49 187.47,404.05 188.6,398.62 189.73,393.18 190.86,387.75 191.99,382.31 193.13,376.88 194.27,371.44 195.42,366.01 196.58,360.57 197.74,355.14 198.91,349.7 200.09,344.27 201.27,338.83 202.48,333.4 203.69,327.97 204.93,322.53 206.19,317.1 207.47,311.66 208.79,306.23 210.15,300.79 211.56,295.36 213.02,289.92 214.56,284.49 216.17,279.05 217.87,273.62 219.66,268.18 221.54,262.75 223.52,257.31 225.57,251.88 227.7,246.44 229.88,241.01 232.12,235.58 234.4,230.14 236.72,224.71" fill="none" stroke="#45c58a" stroke-width="1.1" stroke-dasharray="2 1.7"/>
</g>
<circle cx="173.3" cy="382.89" r="2.5" fill="#0b4fb0"/>
<circle cx="175.7" cy="353.09" r="2.5" fill="#0b4fb0"/>
<circle cx="176.3" cy="336.95" r="2.5" fill="#0b4fb0"/>
<circle cx="177.5" cy="325.49" r="2.5" fill="#0b4fb0"/>
<circle cx="184.9" cy="316.4" r="2.5" fill="#0b4fb0"/>
<circle cx="186.4" cy="308.69" r="2.5" fill="#0b4fb0"/>
<circle cx="188" cy="301.85" r="2.5" fill="#0b4fb0"/>
<circle cx="192.9" cy="295.59" r="2.5" fill="#0b4fb0"/>
<circle cx="194" cy="289.68" r="2.5" fill="#0b4fb0"/>
<circle cx="194.9" cy="283.95" r="2.5" fill="#0b4fb0"/>
<circle cx="196.7" cy="278.22" r="2.5" fill="#0b4fb0"/>
<circle cx="200.2" cy="272.28" r="2.5" fill="#0b4fb0"/>
<circle cx="215.7" cy="265.83" r="2.5" fill="#0b4fb0"/>
<circle cx="221.7" cy="258.22" r="2.5" fill="#0b4fb0"/>
<circle cx="229.6" cy="247.28" r="2.5" fill="#0b4fb0"/>
<rect x="116.7" y="380.69" width="4.4" height="4.4" fill="#c0101a"/>
<rect x="121.1" y="350.89" width="4.4" height="4.4" fill="#c0101a"/>
<rect x="153" y="334.75" width="4.4" height="4.4" fill="#c0101a"/>
<rect x="175.4" y="323.29" width="4.4" height="4.4" fill="#c0101a"/>
<rect x="184.9" y="314.2" width="4.4" height="4.4" fill="#c0101a"/>
<rect x="188" y="306.49" width="4.4" height="4.4" fill="#c0101a"/>
<rect x="196.2" y="299.65" width="4.4" height="4.4" fill="#c0101a"/>
<rect x="204.5" y="293.39" width="4.4" height="4.4" fill="#c0101a"/>
<rect x="208.5" y="287.48" width="4.4" height="4.4" fill="#c0101a"/>
<rect x="209.8" y="281.75" width="4.4" height="4.4" fill="#c0101a"/>
<rect x="220.6" y="276.02" width="4.4" height="4.4" fill="#c0101a"/>
<rect x="221.5" y="270.08" width="4.4" height="4.4" fill="#c0101a"/>
<rect x="222.6" y="263.63" width="4.4" height="4.4" fill="#c0101a"/>
<rect x="222.8" y="256.02" width="4.4" height="4.4" fill="#c0101a"/>
<rect x="226.1" y="245.08" width="4.4" height="4.4" fill="#c0101a"/>
<path d="M181.3 380.19L184 382.89L181.3 385.59L178.6 382.89Z" fill="#05902e"/>
<path d="M182.2 350.39L184.9 353.09L182.2 355.79L179.5 353.09Z" fill="#05902e"/>
<path d="M188.6 334.25L191.3 336.95L188.6 339.65L185.9 336.95Z" fill="#05902e"/>
<path d="M192 322.79L194.7 325.49L192 328.19L189.3 325.49Z" fill="#05902e"/>
<path d="M193.5 313.7L196.2 316.4L193.5 319.1L190.8 316.4Z" fill="#05902e"/>
<path d="M195.7 305.99L198.4 308.69L195.7 311.39L193 308.69Z" fill="#05902e"/>
<path d="M200 299.15L202.7 301.85L200 304.55L197.3 301.85Z" fill="#05902e"/>
<path d="M206.7 292.89L209.4 295.59L206.7 298.29L204 295.59Z" fill="#05902e"/>
<path d="M207.6 286.98L210.3 289.68L207.6 292.38L204.9 289.68Z" fill="#05902e"/>
<path d="M211.7 281.25L214.4 283.95L211.7 286.65L209 283.95Z" fill="#05902e"/>
<path d="M212.2 275.52L214.9 278.22L212.2 280.92L209.5 278.22Z" fill="#05902e"/>
<path d="M213.5 269.58L216.2 272.28L213.5 274.98L210.8 272.28Z" fill="#05902e"/>
<path d="M214.3 263.13L217 265.83L214.3 268.53L211.6 265.83Z" fill="#05902e"/>
<path d="M219 255.52L221.7 258.22L219 260.92L216.3 258.22Z" fill="#05902e"/>
<path d="M221.7 244.58L224.4 247.28L221.7 249.98L219 247.28Z" fill="#05902e"/>
<rect x="26.6" y="234.4" width="245.2" height="198" fill="none" stroke="#bdbdbd" stroke-width="1.4"/>
<path d="M81.7 432.4v2 M127.44 432.4v2 M164.82 432.4v2 M196.42 432.4v2 M223.8 432.4v2 M247.94 432.4v2 M269.54 432.4v2 M26.6 432.4h-2 M26.6 409.84h-2 M26.6 396.57h-2 M26.6 379.73h-2 M26.6 356.47h-2 M26.6 332.22h-2 M26.6 317.06h-2 M26.6 305.46h-2 M26.6 295.59h-2 M26.6 286.57h-2 M26.6 277.75h-2 M26.6 268.37h-2 M26.6 256.8h-2 M26.6 234.4h-2" stroke="#bdbdbd" stroke-width="0.8"/>
<text transform="translate(81.7 443.4) scale(0.8 1)" class="tl" text-anchor="middle" >200</text>
<text transform="translate(127.44 443.4) scale(0.8 1)" class="tl" text-anchor="middle" >250</text>
<text transform="translate(164.82 443.4) scale(0.8 1)" class="tl" text-anchor="middle" >300</text>
<text transform="translate(196.42 443.4) scale(0.8 1)" class="tl" text-anchor="middle" >350</text>
<text transform="translate(223.8 443.4) scale(0.8 1)" class="tl" text-anchor="middle" >400</text>
<text transform="translate(247.94 443.4) scale(0.8 1)" class="tl" text-anchor="middle" >450</text>
<text transform="translate(269.54 443.4) scale(0.8 1)" class="tl" text-anchor="middle" >500</text>
<text transform="translate(22.8 436.3) scale(0.75 1)" class="tl" text-anchor="end" >1</text>
<text transform="translate(22.8 413.74) scale(0.75 1)" class="tl" text-anchor="end" >2</text>
<text transform="translate(22.8 400.47) scale(0.75 1)" class="tl" text-anchor="end" >3</text>
<text transform="translate(22.8 383.63) scale(0.75 1)" class="tl" text-anchor="end" >5</text>
<text transform="translate(22.8 360.37) scale(0.75 1)" class="tl" text-anchor="end" >10</text>
<text transform="translate(22.8 336.12) scale(0.75 1)" class="tl" text-anchor="end" >20</text>
<text transform="translate(22.8 320.96) scale(0.75 1)" class="tl" text-anchor="end" >30</text>
<text transform="translate(22.8 309.36) scale(0.75 1)" class="tl" text-anchor="end" >40</text>
<text transform="translate(22.8 299.49) scale(0.75 1)" class="tl" text-anchor="end" >50</text>
<text transform="translate(22.8 290.47) scale(0.75 1)" class="tl" text-anchor="end" >60</text>
<text transform="translate(22.8 281.65) scale(0.75 1)" class="tl" text-anchor="end" >70</text>
<text transform="translate(22.8 272.27) scale(0.75 1)" class="tl" text-anchor="end" >80</text>
<text transform="translate(22.8 260.7) scale(0.75 1)" class="tl" text-anchor="end" >90</text>
<text transform="translate(22.8 238.3) scale(0.75 1)" class="tl" text-anchor="end" >99</text>
<text x="149.2" y="454" class="al" text-anchor="middle">DC Breakdown Strength (kV/mm)</text>
<text transform="translate(8.9 334.1) scale(0.8 1) rotate(-90)" class="al" style="stroke-width:0.2px" text-anchor="middle">Cumulative Breakdown Probability (%)</text>
<text x="48.8" y="250.7" class="ti"><tspan font-weight="bold">(c)</tspan> 70°C</text>
<clipPath id="clipd"><rect x="303.4" y="232.3" width="241.10000000000002" height="194.2"/></clipPath>
<path d="M307.43 232.3V426.5 M349 232.3V426.5 M384.15 232.3V426.5 M414.59 232.3V426.5 M441.45 232.3V426.5 M465.47 232.3V426.5 M487.2 232.3V426.5 M507.04 232.3V426.5 M525.29 232.3V426.5 M542.18 232.3V426.5 M303.4 426.5H544.5 M303.4 404.37H544.5 M303.4 391.36H544.5 M303.4 374.84H544.5 M303.4 352.03H544.5 M303.4 328.24H544.5 M303.4 313.38H544.5 M303.4 301.99H544.5 M303.4 292.32H544.5 M303.4 283.47H544.5 M303.4 274.82H544.5 M303.4 265.62H544.5 M303.4 254.27H544.5 M303.4 232.3H544.5" stroke="#f0f0f0" stroke-width="0.8" fill="none"/>
<rect x="307.3" y="266.3" width="113.2" height="58.9" fill="#fff" stroke="#7a7a7a" stroke-width="1.5"/>
<path d="M364.3 266.3V325.2M402.6 266.3V325.2M307.3 286.9H420.5M307.3 300H420.5M307.3 312.4H420.5" stroke="#7a7a7a" stroke-width="1.4"/>
<text x="335.8" y="275.3" class="lh" text-anchor="middle">Samples</text>
<text x="383.45" y="275.3" class="lh" text-anchor="middle" font-style="italic">α</text>
<text x="383.45" y="283.8" class="lh" text-anchor="middle">(kV/mm)</text>
<text x="411.55" y="275.3" class="lh" text-anchor="middle" font-style="italic">β</text>
<line x1="310.3" y1="293.95" x2="327.3" y2="293.95" stroke="#56abe8" stroke-width="1.2" />
<circle cx="318.8" cy="293.95" r="2.4" fill="#0b4fb0"/>
<text transform="translate(333.3 297.15) scale(0.95 1)" class="ln" text-anchor="start" >XLPE-A</text>
<text transform="translate(383.45 295.85) scale(0.9 1)" class="lv" text-anchor="middle" >246.72</text>
<text transform="translate(411.55 295.85) scale(0.9 1)" class="lv" text-anchor="middle" >10.9</text>
<line x1="310.3" y1="306.7" x2="327.3" y2="306.7" stroke="#e9838b" stroke-width="1.2" stroke-dasharray="2.2 1.8"/>
<rect x="316.6" y="304.5" width="4.4" height="4.4" fill="#c0101a"/>
<text transform="translate(333.3 309.9) scale(0.95 1)" class="ln" text-anchor="start" >XLPE-B</text>
<text transform="translate(383.45 308.6) scale(0.9 1)" class="lv" text-anchor="middle" >263.82</text>
<text transform="translate(411.55 308.6) scale(0.9 1)" class="lv" text-anchor="middle" >9.4</text>
<line x1="310.3" y1="319.3" x2="327.3" y2="319.3" stroke="#45c58a" stroke-width="1.2" stroke-dasharray="1.2 1"/>
<path d="M318.8 316.5L321.6 319.3L318.8 322.1L316 319.3Z" fill="#05902e"/>
<text transform="translate(333.3 322.5) scale(0.95 1)" class="ln" text-anchor="start" >XLPE-C</text>
<text transform="translate(383.45 321.2) scale(0.9 1)" class="lv" text-anchor="middle" >264.98</text>
<text transform="translate(411.55 321.2) scale(0.9 1)" class="lv" text-anchor="middle" >19.9</text>
<g clip-path="url(#clipd)">
<polyline points="359.96,436.01 500.68,222.79" fill="none" stroke="#56abe8" stroke-width="1.15" />
<polyline points="315.67,436.01 320.51,430.68 325.35,425.35 330.18,420.02 335.01,414.69 339.84,409.36 344.66,404.03 349.48,398.7 354.3,393.36 359.11,388.03 363.91,382.7 368.71,377.37 373.5,372.04 378.28,366.71 383.06,361.38 387.82,356.05 392.56,350.72 397.3,345.39 402.01,340.06 406.71,334.73 411.38,329.4 416.02,324.07 420.62,318.74 425.18,313.41 429.7,308.08 434.14,302.75 438.51,297.42 442.79,292.09 446.96,286.76 451,281.43 454.88,276.1 458.6,270.77 462.15,265.44 465.51,260.1 468.71,254.77 471.75,249.44 474.66,244.11 477.45,238.78 480.14,233.45 482.75,228.12 485.29,222.79" fill="none" stroke="#56abe8" stroke-width="1.15" />
<polyline points="404.25,436.01 406.44,430.68 408.64,425.35 410.84,420.02 413.05,414.69 415.26,409.36 417.47,404.03 419.68,398.7 421.91,393.36 424.13,388.03 426.36,382.7 428.6,377.37 430.85,372.04 433.1,366.71 435.36,361.38 437.64,356.05 439.93,350.72 442.23,345.39 444.55,340.06 446.89,334.73 449.26,329.4 451.65,324.07 454.09,318.74 456.56,313.41 459.08,308.08 461.67,302.75 464.34,297.42 467.09,292.09 469.96,286.76 472.96,281.43 476.11,276.1 479.43,270.77 482.92,265.44 486.59,260.1 490.43,254.77 494.42,249.44 498.55,244.11 502.8,238.78 507.14,233.45 511.57,228.12 516.06,222.79" fill="none" stroke="#56abe8" stroke-width="1.15" />
<polyline points="358.88,436.01 522.05,222.79" fill="none" stroke="#e9838b" stroke-width="1.05" stroke-dasharray="3.8 2.6"/>
<polyline points="313.82,436.01 319.24,430.68 324.66,425.35 330.08,420.02 335.5,414.69 340.91,409.36 346.32,404.03 351.72,398.7 357.12,393.36 362.51,388.03 367.9,382.7 373.28,377.37 378.66,372.04 384.02,366.71 389.38,361.38 394.72,356.05 400.05,350.72 405.37,345.39 410.67,340.06 415.94,334.73 421.19,329.4 426.42,324.07 431.6,318.74 436.74,313.41 441.83,308.08 446.86,302.75 451.81,297.42 456.66,292.09 461.4,286.76 466.01,281.43 470.46,276.1 474.74,270.77 478.85,265.44 482.78,260.1 486.53,254.77 490.13,249.44 493.58,244.11 496.92,238.78 500.16,233.45 503.31,228.12 506.4,222.79" fill="none" stroke="#e9838b" stroke-width="1.05" stroke-dasharray="3.8 2.6"/>
<polyline points="403.95,436.01 406.68,430.68 409.42,425.35 412.16,420.02 414.9,414.69 417.65,409.36 420.4,404.03 423.15,398.7 425.91,393.36 428.68,388.03 431.45,382.7 434.23,377.37 437.01,372.04 439.8,366.71 442.61,361.38 445.42,356.05 448.25,350.72 451.09,345.39 453.95,340.06 456.84,334.73 459.74,329.4 462.68,324.07 465.65,318.74 468.67,313.41 471.74,308.08 474.87,302.75 478.08,297.42 481.39,292.09 484.81,286.76 488.36,281.43 492.06,276.1 495.94,270.77 499.99,265.44 504.22,260.1 508.63,254.77 513.19,249.44 517.89,244.11 522.71,238.78 527.64,233.45 532.64,228.12 537.71,222.79" fill="none" stroke="#e9838b" stroke-width="1.05" stroke-dasharray="3.8 2.6"/>
<polyline points="422.59,436.01 499.67,222.79" fill="none" stroke="#45c58a" stroke-width="1.1" stroke-dasharray="2 1.7"/>
<polyline points="397.84,436.01 400.51,430.68 403.17,425.35 405.83,420.02 408.49,414.69 411.15,409.36 413.81,404.03 416.46,398.7 419.12,393.36 421.77,388.03 424.41,382.7 427.05,377.37 429.69,372.04 432.32,366.71 434.95,361.38 437.57,356.05 440.19,350.72 442.79,345.39 445.39,340.06 447.98,334.73 450.55,329.4 453.1,324.07 455.63,318.74 458.15,313.41 460.63,308.08 463.07,302.75 465.48,297.42 467.83,292.09 470.12,286.76 472.34,281.43 474.47,276.1 476.51,270.77 478.45,265.44 480.29,260.1 482.04,254.77 483.7,249.44 485.29,244.11 486.81,238.78 488.27,233.45 489.69,228.12 491.07,222.79" fill="none" stroke="#45c58a" stroke-width="1.1" stroke-dasharray="2 1.7"/>
<polyline points="447.35,436.01 448.53,430.68 449.72,425.35 450.92,420.02 452.11,414.69 453.3,409.36 454.5,404.03 455.7,398.7 456.9,393.36 458.11,388.03 459.32,382.7 460.53,377.37 461.74,372.04 462.96,366.71 464.19,361.38 465.42,356.05 466.66,350.72 467.91,345.39 469.17,340.06 470.44,334.73 471.72,329.4 473.02,324.07 474.34,318.74 475.68,313.41 477.05,308.08 478.46,302.75 479.91,297.42 481.41,292.09 482.98,286.76 484.61,281.43 486.33,276.1 488.15,270.77 490.06,265.44 492.07,260.1 494.18,254.77 496.37,249.44 498.64,244.11 500.97,238.78 503.36,233.45 505.8,228.12 508.27,222.79" fill="none" stroke="#45c58a" stroke-width="1.1" stroke-dasharray="2 1.7"/>
</g>
<circle cx="418.8" cy="377.94" r="2.5" fill="#0b4fb0"/>
<circle cx="430.6" cy="348.71" r="2.5" fill="#0b4fb0"/>
<circle cx="431.5" cy="332.88" r="2.5" fill="#0b4fb0"/>
<circle cx="433.5" cy="321.64" r="2.5" fill="#0b4fb0"/>
<circle cx="436" cy="312.72" r="2.5" fill="#0b4fb0"/>
<circle cx="440.3" cy="305.16" r="2.5" fill="#0b4fb0"/>
<circle cx="442.2" cy="298.46" r="2.5" fill="#0b4fb0"/>
<circle cx="443.3" cy="292.32" r="2.5" fill="#0b4fb0"/>
<circle cx="445.8" cy="286.52" r="2.5" fill="#0b4fb0"/>
<circle cx="463.7" cy="280.9" r="2.5" fill="#0b4fb0"/>
<circle cx="464.2" cy="275.27" r="2.5" fill="#0b4fb0"/>
<circle cx="470.5" cy="269.45" r="2.5" fill="#0b4fb0"/>
<circle cx="480.2" cy="263.13" r="2.5" fill="#0b4fb0"/>
<circle cx="480.5" cy="255.66" r="2.5" fill="#0b4fb0"/>
<circle cx="486.7" cy="244.94" r="2.5" fill="#0b4fb0"/>
<rect x="450.6" y="375.74" width="4.4" height="4.4" fill="#c0101a"/>
<rect x="451.4" y="346.51" width="4.4" height="4.4" fill="#c0101a"/>
<rect x="453.3" y="330.68" width="4.4" height="4.4" fill="#c0101a"/>
<rect x="453.8" y="319.44" width="4.4" height="4.4" fill="#c0101a"/>
<rect x="453.9" y="310.52" width="4.4" height="4.4" fill="#c0101a"/>
<rect x="459.1" y="302.96" width="4.4" height="4.4" fill="#c0101a"/>
<rect x="459.9" y="296.26" width="4.4" height="4.4" fill="#c0101a"/>
<rect x="462.6" y="290.12" width="4.4" height="4.4" fill="#c0101a"/>
<rect x="463.1" y="284.32" width="4.4" height="4.4" fill="#c0101a"/>
<rect x="464.1" y="278.7" width="4.4" height="4.4" fill="#c0101a"/>
<rect x="466.7" y="273.07" width="4.4" height="4.4" fill="#c0101a"/>
<rect x="469.3" y="267.25" width="4.4" height="4.4" fill="#c0101a"/>
<rect x="474.8" y="260.93" width="4.4" height="4.4" fill="#c0101a"/>
<rect x="479.3" y="253.46" width="4.4" height="4.4" fill="#c0101a"/>
<rect x="521" y="242.74" width="4.4" height="4.4" fill="#c0101a"/>
<path d="M441.8 375.24L444.5 377.94L441.8 380.64L439.1 377.94Z" fill="#05902e"/>
<path d="M450.2 346.01L452.9 348.71L450.2 351.41L447.5 348.71Z" fill="#05902e"/>
<path d="M457.8 330.18L460.5 332.88L457.8 335.58L455.1 332.88Z" fill="#05902e"/>
<path d="M464.7 318.94L467.4 321.64L464.7 324.34L462 321.64Z" fill="#05902e"/>
<path d="M467.5 310.02L470.2 312.72L467.5 315.42L464.8 312.72Z" fill="#05902e"/>
<path d="M468.9 302.46L471.6 305.16L468.9 307.86L466.2 305.16Z" fill="#05902e"/>
<path d="M474.3 295.76L477 298.46L474.3 301.16L471.6 298.46Z" fill="#05902e"/>
<path d="M475.7 289.62L478.4 292.32L475.7 295.02L473 292.32Z" fill="#05902e"/>
<path d="M475.7 283.82L478.4 286.52L475.7 289.22L473 286.52Z" fill="#05902e"/>
<path d="M478.5 278.2L481.2 280.9L478.5 283.6L475.8 280.9Z" fill="#05902e"/>
<path d="M479.8 272.57L482.5 275.27L479.8 277.97L477.1 275.27Z" fill="#05902e"/>
<path d="M482.4 266.75L485.1 269.45L482.4 272.15L479.7 269.45Z" fill="#05902e"/>
<path d="M484.1 260.43L486.8 263.13L484.1 265.83L481.4 263.13Z" fill="#05902e"/>
<path d="M486.3 252.96L489 255.66L486.3 258.36L483.6 255.66Z" fill="#05902e"/>
<path d="M494.9 242.24L497.6 244.94L494.9 247.64L492.2 244.94Z" fill="#05902e"/>
<rect x="303.4" y="232.3" width="241.1" height="194.2" fill="none" stroke="#bdbdbd" stroke-width="1.4"/>
<path d="M349 426.5v2 M414.59 426.5v2 M465.47 426.5v2 M507.04 426.5v2 M542.18 426.5v2 M303.4 426.5h-2 M303.4 404.37h-2 M303.4 391.36h-2 M303.4 374.84h-2 M303.4 352.03h-2 M303.4 328.24h-2 M303.4 313.38h-2 M303.4 301.99h-2 M303.4 292.32h-2 M303.4 283.47h-2 M303.4 274.82h-2 M303.4 265.62h-2 M303.4 254.27h-2 M303.4 232.3h-2" stroke="#bdbdbd" stroke-width="0.8"/>
<text transform="translate(349 436.5) scale(0.8 1)" class="tl" text-anchor="middle" >150</text>
<text transform="translate(414.59 436.5) scale(0.8 1)" class="tl" text-anchor="middle" >200</text>
<text transform="translate(465.47 436.5) scale(0.8 1)" class="tl" text-anchor="middle" >250</text>
<text transform="translate(507.04 436.5) scale(0.8 1)" class="tl" text-anchor="middle" >300</text>
<text transform="translate(542.18 436.5) scale(0.8 1)" class="tl" text-anchor="middle" >350</text>
<text transform="translate(299.6 430.4) scale(0.75 1)" class="tl" text-anchor="end" >1</text>
<text transform="translate(299.6 408.27) scale(0.75 1)" class="tl" text-anchor="end" >2</text>
<text transform="translate(299.6 395.26) scale(0.75 1)" class="tl" text-anchor="end" >3</text>
<text transform="translate(299.6 378.74) scale(0.75 1)" class="tl" text-anchor="end" >5</text>
<text transform="translate(299.6 355.93) scale(0.75 1)" class="tl" text-anchor="end" >10</text>
<text transform="translate(299.6 332.14) scale(0.75 1)" class="tl" text-anchor="end" >20</text>
<text transform="translate(299.6 317.28) scale(0.75 1)" class="tl" text-anchor="end" >30</text>
<text transform="translate(299.6 305.89) scale(0.75 1)" class="tl" text-anchor="end" >40</text>
<text transform="translate(299.6 296.22) scale(0.75 1)" class="tl" text-anchor="end" >50</text>
<text transform="translate(299.6 287.37) scale(0.75 1)" class="tl" text-anchor="end" >60</text>
<text transform="translate(299.6 278.72) scale(0.75 1)" class="tl" text-anchor="end" >70</text>
<text transform="translate(299.6 269.52) scale(0.75 1)" class="tl" text-anchor="end" >80</text>
<text transform="translate(299.6 258.17) scale(0.75 1)" class="tl" text-anchor="end" >90</text>
<text transform="translate(299.6 236.2) scale(0.75 1)" class="tl" text-anchor="end" >99</text>
<text x="423.95" y="448.1" class="al" text-anchor="middle">DC Breakdown Strength (kV/mm)</text>
<text transform="translate(285.7 330.1) scale(0.8 1) rotate(-90)" class="al" style="stroke-width:0.2px" text-anchor="middle">Cumulative Breakdown Probability (%)</text>
<text x="325.3" y="249.6" class="ti"><tspan font-weight="bold">(d)</tspan> 90°C</text>
</svg></body></html>
